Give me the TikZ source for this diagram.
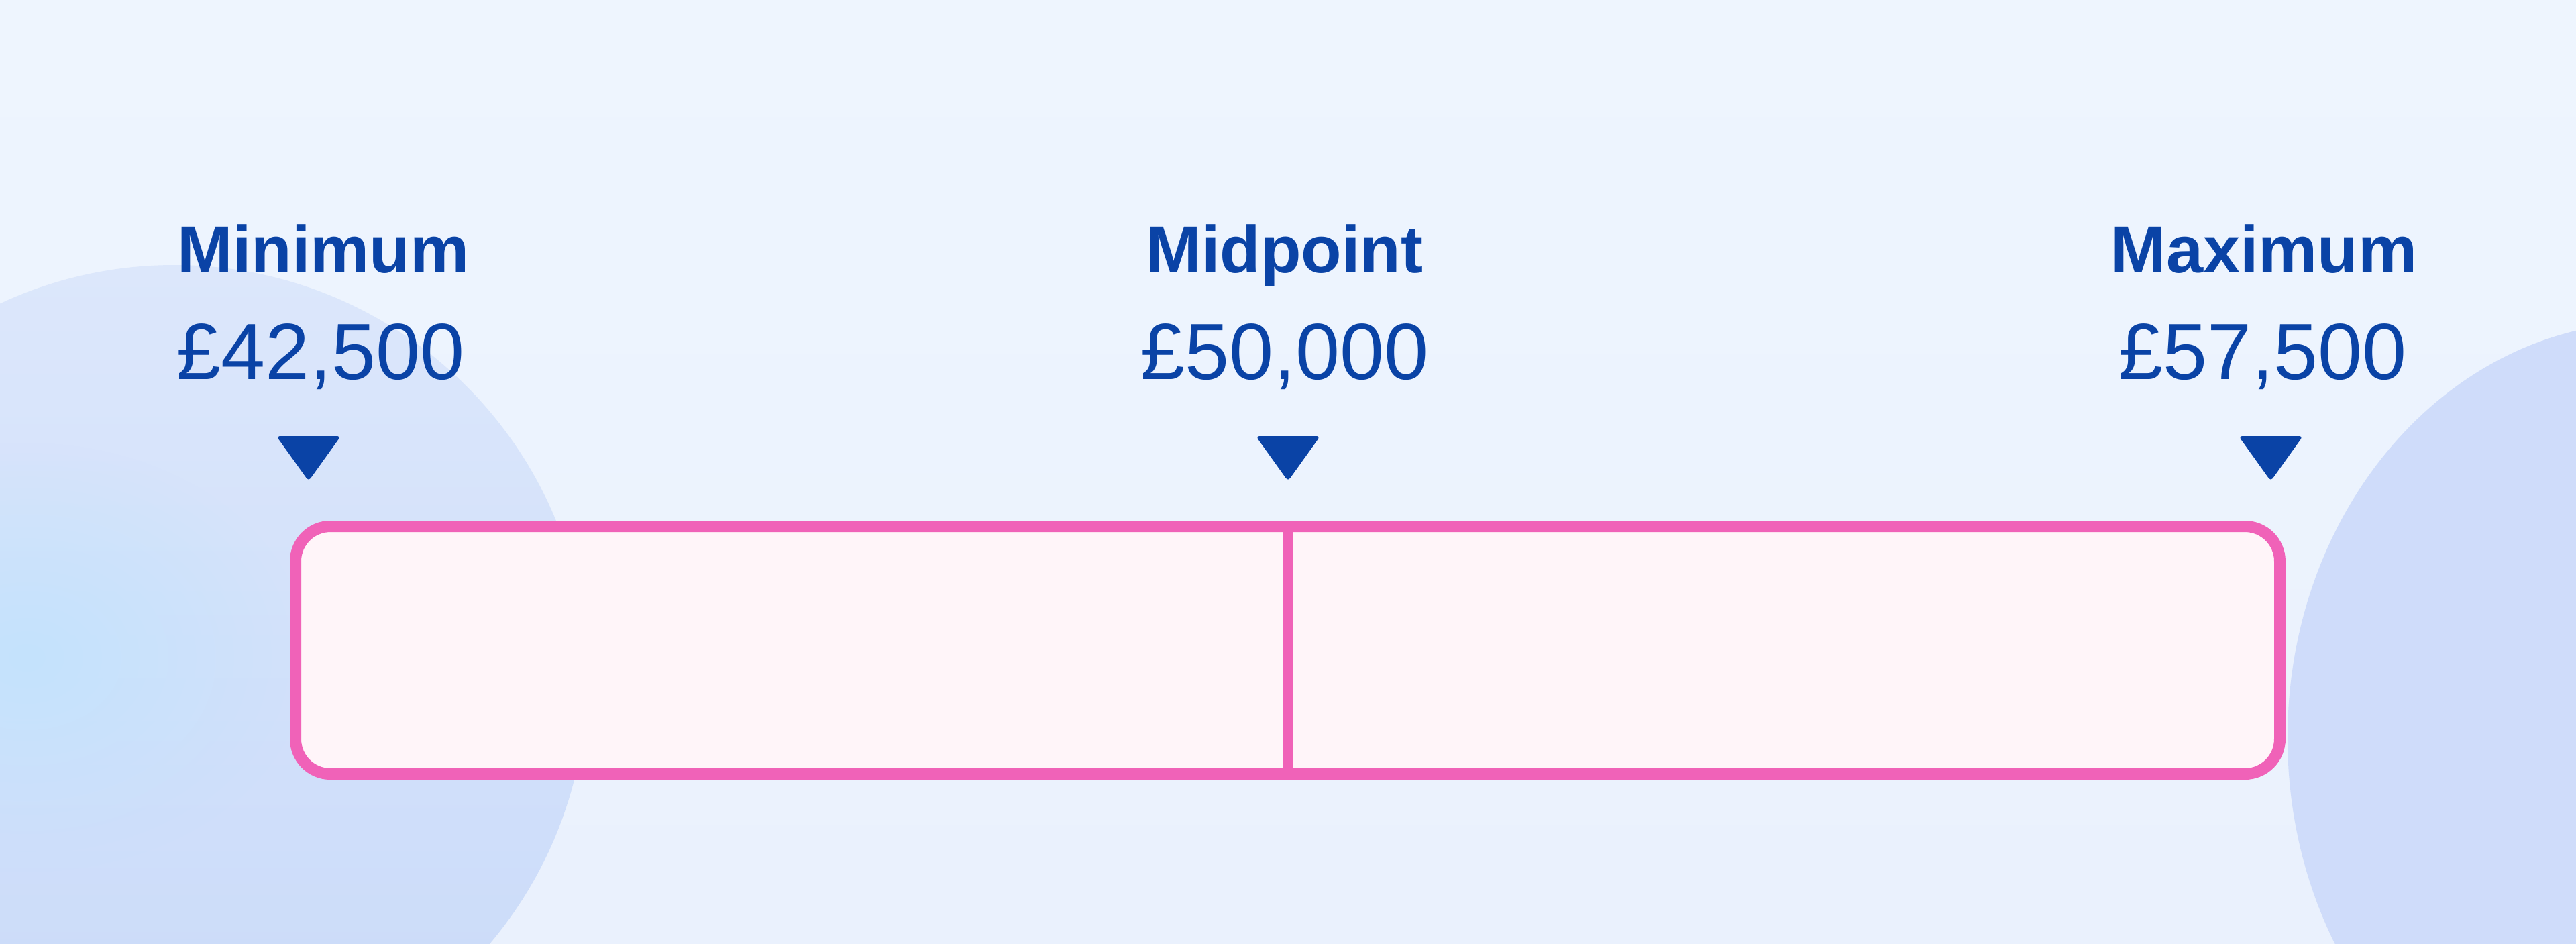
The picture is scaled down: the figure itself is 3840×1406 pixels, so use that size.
\documentclass[tikz,border=0pt]{standalone}
\usepackage{fontspec}
\setmainfont{Liberation Sans}
\usepackage{tikz}
\usetikzlibrary{positioning,fadings}
\definecolor{navy}{HTML}{0A43A6}
\definecolor{rosebar}{HTML}{F062B8}
\definecolor{rosefill}{HTML}{FFF5F9}
\definecolor{skybg}{HTML}{EAF1FD}
\definecolor{skytop}{HTML}{EEF5FE}
\definecolor{skyfade}{HTML}{DCE7FB}
\definecolor{skyblob}{HTML}{C9DAF9}
\definecolor{cyanblob}{HTML}{C4E3FD}
\definecolor{rightblob}{HTML}{CFDCFA}
\tikzfading[name=glow, inner color=transparent!0, outer color=transparent!100]

\begin{document}
\begin{tikzpicture}[
		x=0.1mm, y=-0.1mm,
		heading/.style={
			anchor=base,
			inner sep=0pt,
			text=navy,
			font=\bfseries\fontsize{28.2}{32}\selectfont
		},
		amount/.style={
			anchor=base,
			inner sep=0pt,
			text=navy,
			font=\fontsize{33.8}{38}\selectfont
		},
		pointer/.style={
			fill=navy,
			rounded corners=0.5mm
		},
		band/.style={
			rectangle,
			rounded corners=5.2mm,
			draw=rosebar,
			line width=1.7mm,
			fill=rosefill,
			minimum width=295.8mm,
			minimum height=36.9mm,
			inner sep=0pt
		},
		divider/.style={
			draw=rosebar,
			line width=1.6mm
		}
		]
		\useasboundingbox (0,0) rectangle (3840,1406);
		
		% soft background with the two blobs
		\begin{scope}
		\clip (0,0) rectangle (3840,1406);
		\shade[top color=skytop, bottom color=skybg] (0,0) rectangle (3840,1406);
		\shade[top color=skyfade, middle color=skyblob, bottom color=skyblob] (260,1010) circle (615);
		\fill[cyanblob, path fading=glow] (40,980) ellipse (420 and 320);
		\fill[rightblob] (3950,1100) ellipse (540 and 620);
		\end{scope}
		
		% headings and amounts
		\node [heading] (minlab) at (482,406) {Minimum};
		\node [amount] (minval) at (478,565) {£42,500};
		
		\node [heading] (midlab) at (1915,406) {Midpoint};
		\node [amount] (midval) at (1915,565) {£50,000};
		
		\node [heading] (maxlab) at (3375,406) {Maximum};
		\node [amount] (maxval) at (3373,565) {£57,500};
		
		% the pointers
		\coordinate (minmark) at (460,650);
		\coordinate (midmark) at (1920,650);
		\coordinate (maxmark) at (3385,650);
		\fill [pointer] (minmark) ++(-48,0) -- ++(96,0) -- ++(-48,67) -- cycle;
		\fill [pointer] (midmark) ++(-48,0) -- ++(96,0) -- ++(-48,67) -- cycle;
		\fill [pointer] (maxmark) ++(-48,0) -- ++(96,0) -- ++(-48,67) -- cycle;
		
		% the range bar
		\node [band] (range) at (1919.5,969) {};
		\draw [divider] (range.north) -- (range.south);
		
\end{tikzpicture}
\end{document}
